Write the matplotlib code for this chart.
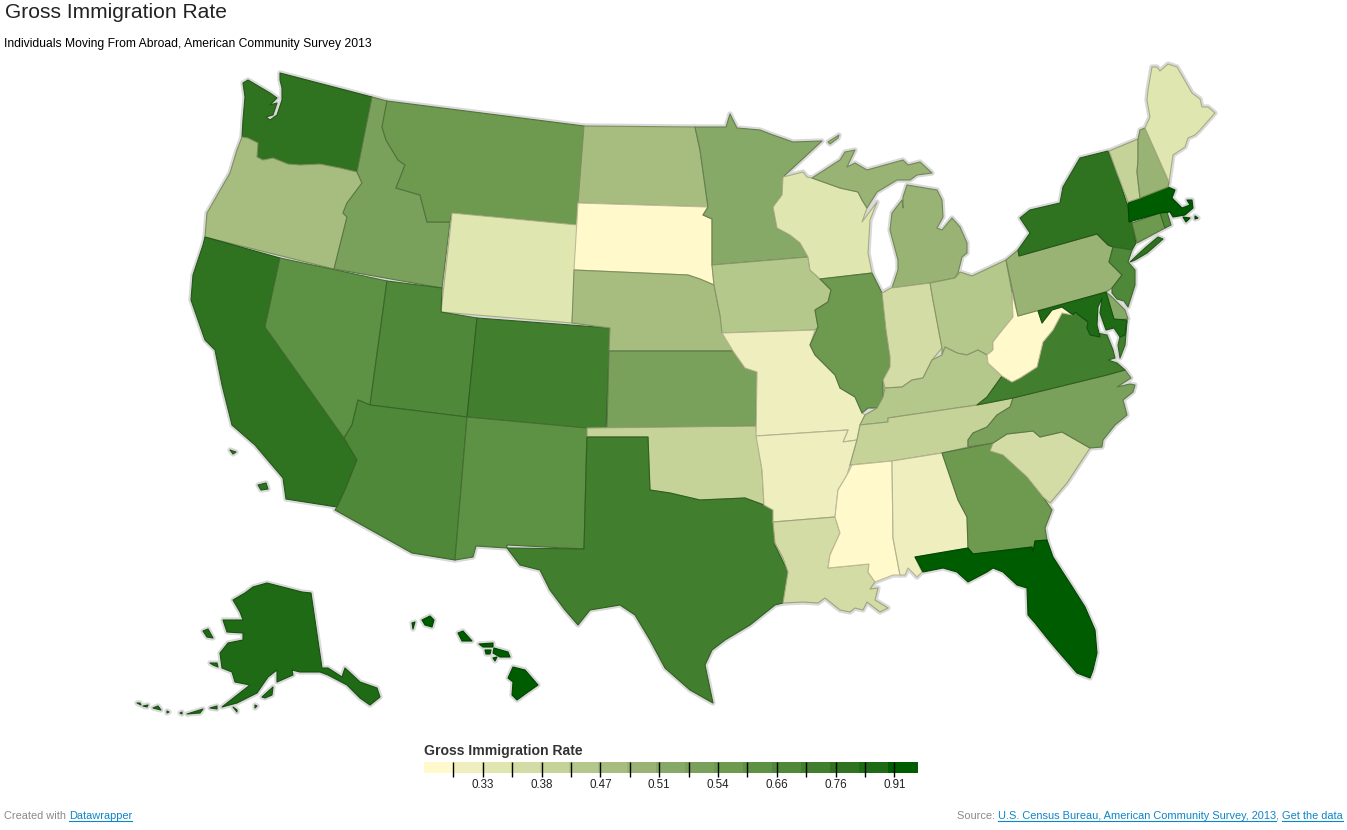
import matplotlib
matplotlib.use("Agg")
import matplotlib.pyplot as plt
from matplotlib.colors import BoundaryNorm, ListedColormap, to_rgb
from matplotlib.patches import Polygon, Rectangle

# colour classes of the legend, lightest first
legend_colors = ["#FFF9CC", "#EFEEBE", "#E0E6B0", "#D3DCA4", "#C5D398", "#B5C88B",
                 "#A7BD7F", "#98B373", "#87A967", "#7AA15C", "#6E9A50", "#5D9144",
                 "#4E8838", "#417E2D", "#2F7320", "#1F6A15", "#005C00"]
# only every second break is labelled on the chart, the others are estimates
breaks = [0.30, 0.33, 0.36, 0.38, 0.42, 0.47, 0.49, 0.51, 0.525, 0.54, 0.60, 0.66,
          0.70, 0.76, 0.83, 0.91]
tick_labels = ["", "0.33", "", "0.38", "", "0.47", "", "0.51", "", "0.54", "", "0.66",
               "", "0.76", "", "0.91"]

rates = {
    "WA": 0.80, "OR": 0.48, "CA": 0.80, "NV": 0.63, "ID": 0.53, "MT": 0.57, "WY": 0.345,
    "UT": 0.68, "AZ": 0.68, "CO": 0.73, "NM": 0.63, "ND": 0.48, "SD": 0.28, "NE": 0.48,
    "KS": 0.53, "OK": 0.40, "TX": 0.73, "MN": 0.52, "IA": 0.445, "MO": 0.315, "AR": 0.315,
    "LA": 0.37, "WI": 0.345, "IL": 0.57, "MI": 0.50, "IN": 0.37, "OH": 0.445, "KY": 0.445,
    "TN": 0.40, "MS": 0.28, "AL": 0.315, "GA": 0.57, "FL": 0.95, "SC": 0.37, "NC": 0.53,
    "VA": 0.73, "WV": 0.28, "PA": 0.50, "NY": 0.80, "VT": 0.40, "NH": 0.50, "ME": 0.345,
    "MA": 0.95, "CT": 0.57, "RI": 0.68, "NJ": 0.68, "DE": 0.52, "MD": 0.87, "AK": 0.87,
    "HI": 0.95,
}

# state outlines, traced in picture pixels
shapes = {
    "WA": [[(280,73),(372,97),(357,172),(340,168),(320,164),(300,165),(288,164),(273,158),(263,160),(257,157),(258,143),(248,138),(242,137),(243,120),(245,97),(243,83),(248,80),(270,93),(277,98),(270,105),(277,103),(273,115),(266,117),(270,120),(277,115),(282,100),(282,88),(280,80)]],
    "OR": [[(242,137),(248,138),(258,143),(257,157),(263,160),(273,158),(288,164),(300,165),(320,164),(340,168),(357,172),(362,183),(347,203),(343,213),(347,217),(334,269),(205,237),(207,213),(230,173),(237,150)]],
    "CA": [[(205,237),(280,258),(265,327),(344,438),(357,460),(345,490),(337,507),(286,499),(283,478),(255,445),(232,425),(222,385),(215,350),(205,340),(191,300),(193,275),(203,245)],
           [(258,485),(266,483),(268,489),(261,490)], [(230,450),(236,452),(233,454)]],
    "NV": [[(280,258),(387,281),(370,405),(358,400),(352,425),(344,438),(265,327)]],
    "ID": [[(372,97),(387,101),(382,127),(386,140),(398,160),(405,165),(396,188),(420,195),(427,222),(450,222),(442,288),(334,269),(347,217),(343,213),(347,203),(362,183),(357,172)]],
    "MT": [[(387,101),(584,126),(578,225),(452,213),(450,222),(427,222),(420,195),(396,188),(405,165),(398,160),(386,140),(382,127)]],
    "WY": [[(452,213),(578,225),(572,323),(441,312)]],
    "UT": [[(387,281),(442,288),(441,312),(477,318),(467,417),(370,405)]],
    "CO": [[(477,318),(610,328),(606,430),(467,417)]],
    "AZ": [[(370,405),(467,417),(455,560),(412,553),(335,510),(337,507),(345,490),(357,460),(344,438),(352,425),(358,400)]],
    "NM": [[(467,417),(587,428),(584,549),(507,545),(507,548),(476,546),(473,557),(455,560)]],
    "ND": [[(584,126),(695,127),(700,150),(708,207),(578,203)]],
    "SD": [[(578,203),(708,207),(703,215),(712,219),(712,265),(714,285),(700,279),(688,275),(574,270)]],
    "NE": [[(574,270),(688,275),(700,279),(714,285),(720,315),(733,351),(609,351),(610,328),(572,323)]],
    "KS": [[(609,351),(733,351),(745,368),(757,372),(756,426),(607,428)]],
    "OK": [[(587,428),(756,426),(757,436),(762,470),(764,505),(745,498),(700,500),(670,493),(650,490),(648,437),(587,437)]],
    "TX": [[(587,437),(648,437),(650,490),(670,493),(700,500),(745,498),(764,505),(773,510),(775,545),(788,572),(783,603),(775,605),(750,625),(725,640),(712,650),(705,665),(713,703),(690,690),(665,668),(650,640),(635,615),(620,605),(590,610),(578,625),(565,610),(550,590),(540,570),(520,565),(507,548),(584,549)]],
    "MN": [[(695,127),(726,127),(730,114),(737,128),(760,130),(773,135),(793,142),(822,141),(783,177),(782,195),(773,207),(777,228),(790,235),(800,243),(808,257),(712,265),(712,219),(703,215),(708,207),(700,150)]],
    "IA": [[(712,265),(808,257),(810,270),(820,279),(831,290),(828,302),(815,310),(818,327),(815,330),(722,333),(720,315),(714,285)]],
    "MO": [[(722,333),(815,330),(810,345),(815,355),(835,375),(840,388),(855,397),(862,413),(865,415),(860,425),(857,440),(843,442),(848,430),(756,436),(757,372),(745,368),(733,351)]],
    "AR": [[(756,436),(848,430),(843,442),(857,440),(850,465),(847,475),(838,490),(835,517),(773,522),(773,510),(764,505),(762,470)]],
    "LA": [[(773,522),(835,517),(840,533),(830,555),(828,568),(869,564),(868,572),(875,582),(870,589),(878,588),(875,600),(888,608),(880,612),(867,602),(863,610),(855,608),(850,612),(840,610),(825,598),(818,603),(803,602),(783,603),(788,572),(783,558),(775,543)]],
    "WI": [[(783,177),(803,172),(807,177),(812,178),(840,188),(858,192),(862,200),(867,208),(862,222),(877,202),(870,220),(868,253),(872,273),(820,279),(810,270),(808,257),(800,243),(790,235),(777,228),(773,207),(782,195)]],
    "IL": [[(820,279),(872,273),(882,293),(886,330),(890,357),(890,367),(883,380),(883,397),(877,408),(868,408),(862,413),(855,397),(840,388),(835,375),(815,355),(810,345),(818,327),(815,310),(828,302),(831,290)]],
    "MI": [[(812,178),(840,160),(845,152),(855,150),(847,167),(855,163),(867,170),(903,160),(908,165),(920,162),(932,173),(917,175),(910,180),(897,180),(877,192),(867,208),(862,200),(858,192),(840,188)],
           [(907,185),(937,190),(942,200),(943,217),(937,228),(942,230),(952,218),(960,227),(967,243),(967,253),(962,257),(958,273),(955,278),(930,283),(892,288),(898,270),(898,260),(890,230),(892,213),(902,200),(903,208),(903,197)],
           [(828,142),(839,135),(838,138),(830,144)]],
    "IN": [[(882,293),(891,288),(930,283),(933,300),(942,348),(932,360),(923,378),(912,380),(902,387),(885,388),(883,380),(890,367),(890,357),(886,330)]],
    "OH": [[(930,283),(955,278),(960,272),(972,276),(1006,260),(1012,293),(1013,317),(1000,333),(993,342),(993,350),(987,355),(978,350),(967,355),(957,353),(945,347),(942,355),(942,348),(933,300)]],
    "KY": [[(860,425),(865,415),(877,408),(883,397),(885,388),(902,387),(912,380),(923,378),(932,360),(942,355),(945,347),(957,353),(967,355),(978,350),(987,355),(988,363),(1002,376),(987,397),(977,405),(888,418),(888,422)]],
    "TN": [[(850,465),(857,440),(860,425),(888,422),(888,418),(977,405),(1013,398),(1010,407),(997,415),(987,427),(973,433),(968,440),(968,447),(942,453),(892,461)]],
    "MS": [[(852,465),(892,461),(893,538),(900,575),(893,575),(875,582),(868,572),(869,564),(828,568),(830,555),(840,533),(835,517),(838,490),(847,475)]],
    "AL": [[(892,461),(942,453),(958,500),(967,517),(968,548),(915,557),(922,572),(917,577),(908,568),(905,575),(900,575),(893,538)]],
    "GA": [[(942,453),(993,443),(990,451),(1003,455),(1027,477),(1043,497),(1052,510),(1045,528),(1047,540),(1035,541),(1033,552),(1032,547),(973,554),(968,548),(967,517),(958,500)]],
    "FL": [[(915,557),(968,548),(973,554),(1032,547),(1033,552),(1035,541),(1047,540),(1053,557),(1073,588),(1085,607),(1095,630),(1097,653),(1093,670),(1090,678),(1077,673),(1057,650),(1047,638),(1035,623),(1028,615),(1027,588),(1017,585),(1003,572),(993,568),(987,572),(968,582),(957,572),(943,568),(923,572)]],
    "SC": [[(993,443),(1007,434),(1033,431),(1040,437),(1062,432),(1090,448),(1067,483),(1050,503),(1043,497),(1027,477),(1003,455),(990,451)]],
    "NC": [[(968,447),(968,440),(973,433),(987,427),(997,415),(1010,407),(1013,398),(1107,375),(1125,370),(1131,378),(1117,387),(1130,384),(1135,385),(1133,392),(1123,400),(1127,415),(1115,425),(1103,440),(1102,447),(1090,448),(1062,432),(1040,437),(1033,431),(1007,434),(993,443)]],
    "VA": [[(977,405),(987,397),(1002,376),(1012,382),(1020,378),(1037,367),(1043,342),(1053,330),(1062,313),(1073,315),(1075,312),(1088,322),(1087,328),(1097,333),(1107,335),(1113,350),(1115,358),(1108,360),(1117,363),(1125,370),(1107,375),(1013,398)],
           [(1120,337),(1127,321),(1125,345),(1120,358),(1118,345)]],
    "WV": [[(1012,293),(1018,316),(1038,310),(1042,323),(1052,310),(1062,307),(1073,315),(1062,313),(1053,330),(1043,342),(1037,367),(1020,378),(1012,382),(1002,376),(988,363),(987,355),(993,350),(993,342),(1000,333),(1013,317)]],
    "PA": [[(1006,260),(1018,250),(1019,256),(1097,234),(1108,245),(1113,247),(1109,262),(1122,275),(1112,288),(1106,292),(1018,316)]],
    "NY": [[(1018,250),(1030,233),(1020,218),(1030,210),(1060,203),(1063,187),(1080,158),(1108,151),(1117,173),(1128,207),(1132,223),(1136,243),(1132,250),(1113,247),(1108,245),(1097,234),(1019,256)],
           [(1130,262),(1145,248),(1158,237),(1163,239),(1147,253),(1135,260)]],
    "NJ": [[(1113,247),(1132,250),(1128,262),(1135,270),(1135,285),(1128,307),(1124,301),(1117,299),(1112,293),(1112,288),(1122,275),(1109,262)]],
    "DE": [[(1106,292),(1112,297),(1118,303),(1125,310),(1128,319),(1114,320)]],
    "MD": [[(1038,311),(1106,292),(1114,319),(1127,320),(1125,335),(1120,337),(1114,328),(1106,330),(1100,313),(1102,298),(1098,307),(1097,325),(1100,337),(1090,335),(1087,328),(1088,322),(1075,312),(1073,315),(1062,307),(1052,310),(1042,323)]],
    "CT": [[(1132,223),(1160,213),(1165,228),(1137,243)]],
    "RI": [[(1160,213),(1167,212),(1171,225),(1165,228)]],
    "MA": [[(1128,203),(1168,187),(1175,190),(1172,198),(1182,208),(1190,205),(1187,200),(1192,200),(1193,208),(1185,215),(1173,217),(1170,212),(1160,213),(1129,222)],
           [(1183,217),(1190,218),(1186,222)], [(1195,216),(1198,218),(1195,219)]],
    "VT": [[(1109,151),(1138,139),(1138,160),(1137,172),(1140,198),(1128,202),(1117,173)]],
    "NH": [[(1138,139),(1140,130),(1145,128),(1169,182),(1168,187),(1140,198),(1137,172),(1138,160)]],
    "ME": [[(1145,128),(1150,117),(1147,100),(1148,90),(1152,67),(1157,67),(1160,71),(1168,64),(1177,67),(1192,93),(1200,99),(1202,107),(1208,107),(1215,113),(1207,122),(1200,130),(1195,135),(1188,138),(1185,147),(1173,155),(1169,182)]],
    "AK": [[(267,583),(302,592),(311,593),(322,668),(328,668),(342,677),(345,668),(360,682),(377,688),(380,697),(370,705),(360,698),(347,685),(328,675),(320,672),(300,672),(292,670),(293,675),(277,682),(277,670),(268,677),(257,693),(237,703),(222,707),(250,685),(235,682),(232,672),(222,668),(220,653),(228,643),(243,640),(243,633),(227,632),(223,620),(243,620),(240,612),(233,600),(245,593),(253,587)],
           [(210,663),(217,663),(218,667),(213,665)], [(203,631),(208,629),(213,638),(207,637)],
           [(262,697),(273,687),(272,695),(265,698)], [(137,703),(140,703),(141,705)], [(143,706),(148,705),(147,707)],
           [(153,708),(158,706),(161,710)], [(167,711),(169,712),(167,713)], [(180,713),(182,712),(182,714)],
           [(187,714),(203,709),(200,713)], [(210,708),(217,706),(217,709)], [(233,707),(237,710),(237,712)],
           [(255,705),(257,706),(255,708)]],
    "HI": [[(412,623),(415,622),(413,629)], [(422,620),(430,616),(434,620),(432,627),(425,625)],
           [(458,633),(463,631),(472,641),(462,641)], [(479,644),(493,643),(493,647),(483,647)],
           [(485,650),(491,650),(490,654),(486,654)], [(494,648),(508,652),(510,657),(500,657),(493,653)],
           [(493,658),(497,657),(495,661)],
           [(513,667),(525,670),(538,685),(528,692),(517,700),(512,695),(513,682),(508,678)]],
}

plt.rcParams["font.family"] = ["Liberation Sans", "DejaVu Sans"]

fig = plt.figure(figsize=(13.47, 8.30), dpi=100)
ax = fig.add_axes([0, 0, 1, 1])
ax.set_xlim(0, 1347)
ax.set_ylim(830, 0)
ax.axis("off")

norm = BoundaryNorm([0] + breaks + [1], len(legend_colors))
cmap = ListedColormap(legend_colors)

# grey halo first, so that it only shows outside the country
for state in shapes:
    for part in shapes[state]:
        ax.add_patch(Polygon(part, closed=True, fc="#d9d9d9", ec="#d9d9d9", lw=3.8,
                             joinstyle="round", zorder=1))

for state in shapes:
    fill = cmap(norm(rates[state]))
    edge = tuple(c * 0.75 for c in to_rgb(fill))
    for part in shapes[state]:
        ax.add_patch(Polygon(part, closed=True, fc=fill, ec=edge, lw=0.8,
                             joinstyle="round", zorder=2))

# legend
bar_x, bar_y, bar_h, step = 424, 762, 11, 29.0
for i, color in enumerate(legend_colors):
    ax.add_patch(Rectangle((bar_x + i * step, bar_y), step + 0.5, bar_h, fc=color, ec="none", zorder=3))
for i, label in enumerate(tick_labels):
    tick_x = bar_x + (i + 1) * 29.4
    ax.plot([tick_x, tick_x], [bar_y, 777], color="black", lw=1, zorder=4, solid_capstyle="butt")
    if label:
        ax.text(tick_x, 784.5, label, ha="center", va="center", fontsize=8.4, color="#222222")
ax.text(424, 750.5, "Gross Immigration Rate", fontsize=10.1, fontweight="bold", color="#333333",
        va="center")

# titles
ax.text(5, 13, "Gross Immigration Rate", fontsize=15.1, color="#222222", va="center")
ax.text(4, 44, "Individuals Moving From Abroad, American Community Survey 2013", fontsize=8.7,
        color="black", va="center")


def draw_runs(x, y, runs, align_right=False):
    renderer = fig.canvas.get_renderer()
    items = []
    total = 0
    for string, is_link in runs:
        t = ax.text(0, y, string, fontsize=7.9, va="center",
                    color="#0d85c8" if is_link else "#8a8a8a")
        w = t.get_window_extent(renderer).width
        items.append((t, w, is_link))
        total += w
    pos = x - total if align_right else x
    for t, w, is_link in items:
        t.set_x(pos)
        if is_link:
            ax.plot([pos, pos + w], [y + 5, y + 5], color="#0d85c8", lw=0.8)
        pos += w


draw_runs(4, 816, [("Created with ", False), ("Datawrapper", True)])
draw_runs(1343, 816, [("Source: ", False),
                      ("U.S. Census Bureau, American Community Survey, 2013", True),
                      (", ", False), ("Get the data", True)], align_right=True)

fig.savefig("out.png", dpi=100)
